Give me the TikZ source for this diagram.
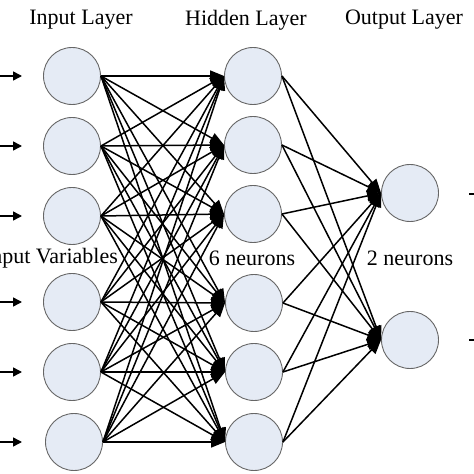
\documentclass[tikz,border=0pt]{standalone}
\usepackage{fontspec}
\setmainfont{Liberation Serif}
\usetikzlibrary{arrows.meta}
\definecolor{nfill}{HTML}{E5EBF5}
\definecolor{nline}{HTML}{666666}
\begin{document}
\begin{tikzpicture}[x=1pt,y=1pt,
  neuron/.style={circle,draw=nline,fill=nfill,line width=0.9pt,minimum size=57pt,inner sep=0pt},
  conn/.style={line width=1.5pt,-{Triangle[length=14pt,width=11pt]}},
  inarrow/.style={line width=1.5pt,-{Triangle[length=9pt,width=9pt]}},
  lbl/.style={font=\fontsize{22}{26}\selectfont,inner sep=0pt}]
\useasboundingbox (0,0) rectangle (474,474);
% input layer
\node[neuron] (I1) at (72,398) {};
\node[neuron] (I2) at (72,328) {};
\node[neuron] (I3) at (72,258) {};
\node[neuron] (I4) at (72,172) {};
\node[neuron] (I5) at (72,102) {};
\node[neuron] (I6) at (74,32) {};
% hidden layer
\node[neuron] (H1) at (253,398) {};
\node[neuron] (H2) at (253,329) {};
\node[neuron] (H3) at (253,260) {};
\node[neuron] (H4) at (254,171) {};
\node[neuron] (H5) at (254,102) {};
\node[neuron] (H6) at (254,32) {};
% output layer
\node[neuron] (O1) at (410,281) {};
\node[neuron] (O2) at (410,134) {};
% connections
\foreach \i in {1,...,6}{
  \foreach \h in {1,...,6}{
    \draw[conn] (I\i.east) -- (H\h.west);
  }
}
\foreach \h in {1,...,6}{
  \foreach \o in {1,2}{
    \draw[conn] (H\h.east) -- (O\o.west);
  }
}
% input arrows
\foreach \i/\y in {1/398,2/328,3/258,4/172,5/102,6/32}{
  \coordinate (a\i) at (0,\y);
  \coordinate (b\i) at (22,\y);
  \draw[inarrow] (a\i) -- (b\i);
}
% output arrows (cut by the frame)
\coordinate (p1) at (469,280);
\coordinate (q1) at (490,280);
\coordinate (p2) at (469,134);
\coordinate (q2) at (490,134);
\draw[inarrow] (p1) -- (q1);
\draw[inarrow] (p2) -- (q2);
% labels
\node[lbl] (t1) at (81,454) {Input Layer};
\node[lbl] (t2) at (246,454) {Hidden Layer};
\node[lbl] (t3) at (404,454) {Output Layer};
\node[lbl,anchor=east] (t4) at (118,216) {Input Variables};
\node[lbl] (t5) at (252,216) {6 neurons};
\node[lbl] (t6) at (410,216) {2 neurons};
\end{tikzpicture}
\end{document}
